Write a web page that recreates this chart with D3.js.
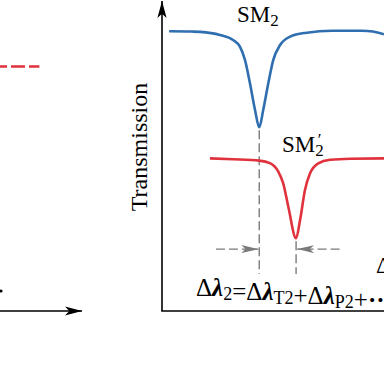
<!DOCTYPE html>
<html>
<head>
<meta charset="utf-8">
<script src="https://cdn.jsdelivr.net/npm/d3@7"></script>
<style>
body { margin: 0; background: #fff; }
svg { display: block; }
text { font-family: "Liberation Serif", "Times New Roman", serif; fill: #000; }
</style>
</head>
<body>
<div id="chart"></div>
<script>
// spectrum SM2 (blue) : wavelength (a.u.) / transmission (a.u.)
const blueWl = [0.32, 1.35, 1.71, 2.61, 3.2, 3.51, 3.74, 3.96, 4.19, 4.38, 4.56, 4.79, 5.01, 5.32, 5.77, 6.52, 7.66, 9.0, 9.5, 10];
const blueT  = [99.9, 99.8, 99.7, 98.6, 96.8, 94.4, 89.6, 81.4, 71.8, 65.6, 71.8, 81.4, 89.6, 95.0, 98.0, 99.4, 100.1, 100.1, 99.8, 98.8];
// spectrum SM2' (red), shifted
const redWl = [2.16, 3.21, 4.38, 4.86, 5.24, 5.46, 5.69, 6.04, 6.22, 6.44, 6.67, 7.04, 7.57, 8.5, 10];
const redT  = [54.5, 54.2, 53.7, 52.8, 49.75, 45.6, 37.25, 26.0, 32.5, 43.2, 49.2, 52.75, 54.0, 54.4, 54.5];
// left panel reference level (dashed)
const leftRefWl = [0, 4.8];
const leftRefT = [87.3, 87.3];

const blueDip = 4.38, redDip = 6.04;
const markerLevel = 13.2;   // bottom of the vertical guides
const arrowLevel = 22.1;    // level of the shift arrows
const arrowFrom = [2.43, 8.0];

const width = 384, height = 384;
const svg = d3.select('#chart').append('svg')
    .attr('width', width)
    .attr('height', height);

const x = d3.scaleLinear().domain([0, 10]).range([162, 384]);
const xl = d3.scaleLinear().domain([0, 10]).range([0, 82]);
const y = d3.scaleLinear().domain([0, 100]).range([311, 31]);

const defs = svg.append('defs');
function arrowMarker(id, color, len, half) {
    defs.append('marker')
        .attr('id', id)
        .attr('markerUnits', 'userSpaceOnUse')
        .attr('viewBox', `${-len} ${-half} ${len} ${half * 2}`)
        .attr('refX', 0).attr('refY', 0)
        .attr('markerWidth', len).attr('markerHeight', half * 2)
        .attr('orient', 'auto')
        .append('path')
        .attr('d', `M0,0L${-len},${-half}L${-len * 0.75},0L${-len},${half}Z`)
        .attr('fill', color);
}
arrowMarker('blk', '#000', 17, 4.6);
arrowMarker('gry', '#7a7a7a', 17, 4);

// axes
svg.append('line')
    .attr('x1', x(0)).attr('y1', y(0)).attr('x2', x(0)).attr('y2', 1)
    .attr('stroke', '#000').attr('stroke-width', 1.6)
    .attr('marker-end', 'url(#blk)');
svg.append('line')
    .attr('x1', x(0) - 0.8).attr('y1', y(0)).attr('x2', x(10)).attr('y2', y(0))
    .attr('stroke', '#000').attr('stroke-width', 1.6);
svg.append('line')
    .attr('x1', xl(0)).attr('y1', y(0)).attr('x2', xl(10)).attr('y2', y(0))
    .attr('stroke', '#000').attr('stroke-width', 1.6)
    .attr('marker-end', 'url(#blk)');
svg.append('circle').attr('cx', 1).attr('cy', 291).attr('r', 1.6).attr('fill', '#000');

svg.append('text')
    .attr('transform', `translate(147,147) rotate(-90)`)
    .attr('text-anchor', 'middle')
    .style('font-size', '24px')
    .text('Transmission');

// left panel dashed level
svg.append('path')
    .datum(d3.zip(leftRefWl, leftRefT))
    .attr('d', d3.line().x(d => xl(d[0])).y(d => y(d[1])))
    .attr('stroke', '#e0323c').attr('stroke-width', 2.6)
    .attr('stroke-dasharray', '14,4').attr('stroke-dashoffset', 7)
    .attr('fill', 'none');

// guides
const guide = svg.append('g')
    .attr('stroke', '#7a7a7a').attr('stroke-width', 1.4)
    .attr('stroke-dasharray', '9,4');
const blueMin = d3.min(blueT), redMin = d3.min(redT);
guide.append('line')
    .attr('x1', x(blueDip)).attr('x2', x(blueDip))
    .attr('y1', y(blueMin) + 3).attr('y2', y(markerLevel));
guide.append('line')
    .attr('x1', x(redDip)).attr('x2', x(redDip))
    .attr('y1', y(redMin) + 3).attr('y2', y(markerLevel));
guide.append('line')
    .attr('x1', x(arrowFrom[0])).attr('x2', x(blueDip) - 1)
    .attr('y1', y(arrowLevel)).attr('y2', y(arrowLevel))
    .attr('marker-end', 'url(#gry)');
guide.append('line')
    .attr('x1', x(arrowFrom[1])).attr('x2', x(redDip) + 1)
    .attr('y1', y(arrowLevel)).attr('y2', y(arrowLevel))
    .attr('marker-end', 'url(#gry)');

// spectra
const line = d3.line().x(d => x(d[0])).y(d => y(d[1])).curve(d3.curveMonotoneX);
svg.append('path')
    .datum(d3.zip(blueWl, blueT))
    .attr('d', line)
    .attr('fill', 'none').attr('stroke', '#2f6fb0').attr('stroke-width', 2.6);
svg.append('path')
    .datum(d3.zip(redWl, redT))
    .attr('d', line)
    .attr('fill', 'none').attr('stroke', '#e0323c').attr('stroke-width', 2.6);

// labels
const sm2 = svg.append('text').attr('x', 237).attr('y', 22).style('font-size', '23px');
sm2.append('tspan').text('SM');
sm2.append('tspan').attr('dy', 4).style('font-size', '17px').text('2');

const sm2p = svg.append('text').attr('x', 282).attr('y', 152).style('font-size', '23px');
sm2p.append('tspan').text('SM');
sm2p.append('tspan').attr('dy', 4).style('font-size', '17px').text('2');
sm2p.append('tspan').attr('dx', -6).attr('dy', -11).style('font-size', '17px').text('′');

const eq = svg.append('text').attr('x', 196).attr('y', 296).style('font-size', '25px');
const parts = [['Δ', 'λ', '2'], ['=Δ', 'λ', 'T2'], ['+Δ', 'λ', 'P2'], ['+', '', '']];
parts.forEach(p => {
    eq.append('tspan').text(p[0]);
    if (p[1]) eq.append('tspan').style('font-style', 'italic').style('font-weight', 'bold').text(p[1]);
    if (p[2]) {
        eq.append('tspan').attr('dy', 4).style('font-size', '18px').text(p[2]);
        eq.append('tspan').attr('dy', -4).text('');
    }
});
eq.append('tspan').style('font-weight', 'bold').text('···');
svg.append('text').attr('x', 376).attr('y', 273).style('font-size', '24px').text('Δ');
</script>
</body>
</html>
